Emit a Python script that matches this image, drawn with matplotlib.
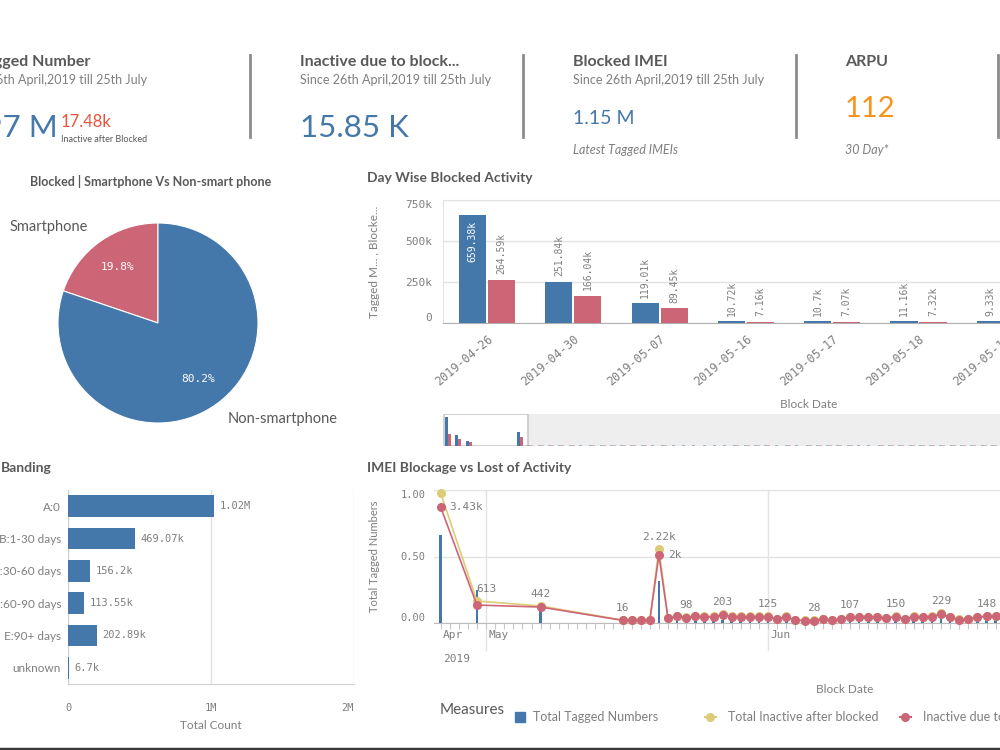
import numpy as np
import pandas as pd
import matplotlib
matplotlib.use("Agg")
import matplotlib.pyplot as plt
import matplotlib.dates as mdates
import matplotlib.transforms as mtransforms
from matplotlib.lines import Line2D
from matplotlib.patches import Rectangle
from matplotlib.ticker import NullLocator

W, H = 1000, 750

BLUE = "#4477aa"
RED = "#cc6677"
YELLOW = "#ddcc77"
ORANGE = "#f7941d"
DARK = "#595959"
GREY = "#7f7f7f"
LIGHT = "#e3e3e3"
SANS = ["Lato", "DejaVu Sans"]
MONO = ["DejaVu Sans Mono", "DejaVu Sans"]

plt.rcParams["font.family"] = SANS

# KPI row
kpi_titles = ["Tagged Number", "Inactive due to block...", "Blocked IMEI", "ARPU"]
kpi_subtitle = "Since 26th April,2019 till 25th July"
kpi_values = ["1.97 M", "15.85 K", "1.15 M", "112"]
kpi_notes = ["", "", "Latest Tagged IMEIs", "30 Day*"]
tagged_inactive = "17.48k"
tagged_inactive_note = "Inactive after Blocked"

# pie
pie_labels = ["Smartphone", "Non-smartphone"]
pie_share = [19.8, 80.2]

# day wise blocked activity (thousands)
block_dates = ["2019-04-26", "2019-04-30", "2019-05-07"] + \
    [d.strftime("%Y-%m-%d") for d in pd.date_range("2019-05-16", "2019-07-07")]
tagged_k = [659.38, 251.84, 119.01, 10.72, 10.7, 11.16, 9.33, 312.5,
            18.4, 21.2, 17.9, 20.6, 19.3, 16.8, 24.1, 19.7, 18.2, 20.4,
            17.5, 19.9, 14.2, 20.8, 12.6, 11.9, 12.3, 14.8, 13.1, 15.2,
            19.6, 20.3, 19.1, 18.8, 16.4, 21.0, 13.7, 21.5, 19.2, 21.1,
            26.4, 18.6, 12.9, 13.4, 19.0, 21.6, 22.0, 19.5, 18.1, 20.7,
            17.2, 19.8, 16.9, 20.2, 18.5, 17.7, 21.3, 19.4]
blocked_k = [264.59, 166.04, 89.45, 7.16, 7.07, 7.32, 6.41, 205.0,
             12.5, 14.4, 12.2, 14.0, 13.1, 11.4, 16.4, 13.4, 12.4, 13.9,
             11.9, 13.5, 9.7, 14.1, 8.6, 8.1, 8.4, 10.1, 8.9, 10.3,
             13.3, 13.8, 13.0, 12.8, 11.2, 14.3, 9.3, 14.6, 13.1, 14.3,
             18.0, 12.6, 8.8, 9.1, 12.9, 14.7, 15.0, 13.3, 12.3, 14.1,
             11.7, 13.5, 11.5, 13.7, 12.6, 12.0, 14.5, 13.2]

# banding
bands = ["A:0", "B:1-30 days", "C:30-60 days", "D:60-90 days", "E:90+ days", "unknown"]
band_counts = [1020000, 469070, 156200, 113550, 202890, 6700]
band_text = ["1.02M", "469.07k", "156.2k", "113.55k", "202.89k", "6.7k"]

# IMEI blockage vs lost of activity (normalised scale)
total_inactive = [0.98, 0.165, 0.128, 0.022, 0.022, 0.022, 0.022, 0.56,
                  0.04, 0.055, 0.044, 0.054, 0.05, 0.049, 0.068,
                  0.05, 0.049, 0.05, 0.049, 0.05,
                  0.032, 0.05, 0.024, 0.021, 0.022, 0.032, 0.024, 0.032,
                  0.047, 0.048, 0.047, 0.048, 0.039, 0.053, 0.032, 0.052, 0.048, 0.053,
                  0.072, 0.047, 0.029, 0.033, 0.047, 0.055, 0.054,
                  0.05, 0.044, 0.054, 0.042, 0.05, 0.046, 0.055, 0.048, 0.043, 0.05, 0.047]
inactive_due = [0.875, 0.135, 0.12, 0.02, 0.02, 0.02, 0.02, 0.51,
                0.035, 0.05, 0.04, 0.05, 0.045, 0.045, 0.063,
                0.045, 0.045, 0.045, 0.045, 0.045,
                0.028, 0.045, 0.02, 0.018, 0.018, 0.028, 0.02, 0.028,
                0.043, 0.043, 0.043, 0.043, 0.035, 0.048, 0.028, 0.048, 0.043, 0.048,
                0.066, 0.043, 0.025, 0.028, 0.043, 0.05, 0.05,
                0.045, 0.04, 0.05, 0.038, 0.045, 0.042, 0.05, 0.044, 0.039, 0.046, 0.043]
lab_idx = [0, 1, 2, 3, 7, 7, 10, 14, 19, 24, 28, 33, 38, 43]
lab_txt = ["3.43k", "613", "442", "16", "2.22k", "2k", "98", "203", "125", "28",
           "107", "150", "229", "148"]
lab_side = ["r", "ur", "u", "u", "u", "r", "u", "u", "u", "u", "u", "u", "u", "u"]

legend_names = ["Total Tagged Numbers", "Total Inactive after blocked", "Inactive due to blocking"]
legend_colors = [BLUE, YELLOW, RED]


fig = plt.figure(figsize=(10, 7.5), dpi=100)
fig.patch.set_facecolor("white")


def px_axes(left, top, width, height):
    return fig.add_axes([left / W, 1 - (top + height) / H, width / W, height / H])


def ftext(x, y, s, **kw):
    kw.setdefault("va", "center")
    return fig.text(x / W, 1 - y / H, s, **kw)


def fline(xs, ys, **kw):
    fig.add_artist(Line2D([x / W for x in xs], [1 - y / H for y in ys],
                          transform=fig.transFigure, **kw))


def edge_labels(labels):
    labels[0].set_va("bottom")
    labels[-1].set_va("top")


# ---------------- KPI cards
ftext(90, 62, kpi_titles[0], ha="right", fontsize=11.5, fontweight="bold", color=DARK)
ftext(147, 80, kpi_subtitle, ha="right", fontsize=9, color=GREY)
ftext(58, 128, kpi_values[0], ha="right", fontsize=22.5, color=BLUE)
ftext(61, 122, tagged_inactive, fontsize=12, color="#e8553e")
ftext(61, 140, tagged_inactive_note, fontsize=6.5, color=DARK)

card_x = [300, 573, 845]
val_y = [128, 118, 109]
val_size = [22.5, 14, 21]
val_color = [BLUE, BLUE, ORANGE]
for k in range(3):
    i = k + 1
    ftext(card_x[k], 62, kpi_titles[i], fontsize=11.5, fontweight="bold", color=DARK)
    if i < 3:
        ftext(card_x[k], 80, kpi_subtitle, fontsize=9, color=GREY)
    ftext(card_x[k], val_y[k], kpi_values[i], fontsize=val_size[k], color=val_color[k])
    if kpi_notes[i]:
        ftext(card_x[k], 150, kpi_notes[i], fontsize=9, style="italic", color=GREY)

for x in [250, 523, 796, 998]:
    fline([x, x], [55, 137], color="#8c8c8c", lw=2)

# ---------------- pie
ftext(30, 182, "Blocked | Smartphone Vs Non-smart phone", fontsize=9, fontweight="bold", color=DARK)
ax1 = px_axes(58, 223, 200, 200)
ax1.pie(pie_share, colors=[RED, BLUE], startangle=90, counterclock=True,
        autopct="%.1f%%", pctdistance=0.69,
        wedgeprops=dict(edgecolor="white", linewidth=0.8),
        textprops=dict(color="white", family=MONO, fontsize=8))
ax1.set_xlim(-1, 1)
ax1.set_ylim(-1, 1)
ax1.text(-1.48, 0.96, pie_labels[0], ha="left", va="center", fontsize=10.5, color=DARK)
ax1.text(0.70, -0.96, pie_labels[1], ha="left", va="center", fontsize=10.5, color=DARK)

# ---------------- day wise bar chart
ftext(367, 178, "Day Wise Blocked Activity", fontsize=10, fontweight="bold", color=DARK)
ax2 = px_axes(443, 200, 657, 123)
xi = np.arange(len(block_dates))
tag = np.array(tagged_k) * 1000
blk = np.array(blocked_k) * 1000
bw = 0.315
ax2.bar(xi - 0.168, tag, bw, color=BLUE, zorder=3)
ax2.bar(xi + 0.168, blk, bw, color=RED, zorder=3)
ax2.set_xticks(xi)
ax2.set_xticklabels(block_dates, rotation=40, ha="right", rotation_mode="anchor",
                    fontsize=8.5, family=MONO, color=GREY)
bx0, bx1 = -0.51, -0.51 + 657 / 86.3
ax2.set_xlim(bx0, bx1)
ax2.set_ylim(0, 750000)
for xs, vals in [(xi - 0.168, tagged_k), (xi + 0.168, blocked_k)]:
    for x, v in zip(xs, vals):
        if x > bx1:
            continue
        s = ("%.2f" % v).rstrip("0").rstrip(".") + "k"
        inside = v * 1000 > 0.8 * 750000
        ax2.annotate(s, (x, v * 1000), xytext=(0, -4 if inside else 4), textcoords="offset points",
                     rotation=90, ha="center", va="top" if inside else "bottom",
                     fontsize=7, family=MONO, color="white" if inside else GREY,
                     annotation_clip=False)
ax2.set_yticks([0, 250000, 500000, 750000])
ax2.set_yticklabels(["0", "250k", "500k", "750k"], fontsize=8, family=MONO, color=GREY)
edge_labels(ax2.get_yticklabels())
ax2.tick_params(axis="both", length=0)
ax2.tick_params(axis="x", pad=7)
ax2.tick_params(axis="y", pad=8)
ax2.grid(axis="y", color=LIGHT, lw=1, zorder=0)
for sp in ["left", "top"]:
    ax2.spines[sp].set_color(LIGHT)
ax2.spines["bottom"].set_color("#b0b0b0")
ax2.spines["right"].set_visible(False)
ax2.set_ylabel("Tagged M... , Blocke...", fontsize=8.5, color=GREY)
ax2.yaxis.set_label_coords((380 - 443) / 657, 0.5)
ax2.set_xlabel("Block Date", fontsize=8.5, color=GREY)
ax2.xaxis.set_label_coords((809 - 443) / 657, (323 - 399) / 123)

# scroll bar mini chart
axm = px_axes(443, 414, 657, 32)
mx0 = -0.49
mx1 = mx0 + 85 / 10.3
axm.set_xlim(mx0, mx0 + 657 / 10.3)
axm.set_ylim(0, 730000)
axm.axvspan(mx1, mx0 + 657 / 10.3, color="#eeeeee", zorder=0)
axm.add_patch(Rectangle((mx0 + 0.05, 0), mx1 - mx0 - 0.05, 730000, facecolor="white",
                        edgecolor="#c8c8c8", lw=1.2, zorder=1))
sel = xi < 8
axm.bar(xi[sel] - 0.146, tag[sel], 0.29, color=BLUE, zorder=2)
axm.bar(xi[sel] + 0.146, blk[sel], 0.29, color=RED, zorder=2)
axm.bar(xi[~sel] - 0.146, tag[~sel], 0.29, color=BLUE, alpha=0.45, zorder=2)
axm.bar(xi[~sel] + 0.146, blk[~sel], 0.29, color=RED, alpha=0.45, zorder=2)
axm.axis("off")

# ---------------- banding
ftext(1, 468, "Banding", fontsize=10, fontweight="bold", color=DARK)
ax3 = px_axes(68, 490, 286, 194)
yb = np.arange(len(bands))
ax3.barh(yb, band_counts, height=0.67, color=BLUE, zorder=3)
ax3.set_ylim(5.5, -0.5)
ax3.set_xlim(0, 2000000)
for y, v, s in zip(yb, band_counts, band_text):
    ax3.annotate(s, (v, y), xytext=(4, 0), textcoords="offset points", ha="left", va="center",
                 fontsize=7.5, family=MONO, color=GREY)
ax3.set_yticks(yb)
ax3.set_yticklabels(bands, fontsize=8.5, color=GREY)
ax3.set_xticks([0, 1000000, 2000000])
ax3.set_xticklabels(["0", "1M", "2M"], fontsize=7.5, family=MONO, color=GREY)
ax3.get_xticklabels()[-1].set_ha("right")
ax3.tick_params(axis="y", length=0, pad=5)
ax3.tick_params(axis="x", length=0, pad=14)
ax3.grid(axis="x", color=LIGHT, lw=1, zorder=0)
for sp in ["top", "right"]:
    ax3.spines[sp].set_visible(False)
for sp in ["left", "bottom"]:
    ax3.spines[sp].set_color("#cfcfcf")
ax3.set_xlabel("Total Count", fontsize=8.5, color=GREY)
ax3.xaxis.set_label_coords(0.5, (684 - 720) / 194)

# ---------------- IMEI blockage vs lost of activity
ftext(367, 468, "IMEI Blockage vs Lost of Activity", fontsize=10, fontweight="bold", color=DARK)
ax4 = px_axes(434, 490, 666, 133)
lx = mdates.date2num(pd.to_datetime(block_dates))
day_px = 9.1
ax4.bar(lx, np.array(tagged_k) / 1000, width=0.3, color=BLUE, zorder=3)
ax4.plot(lx, total_inactive, color=YELLOW, lw=1.2, marker="o", ms=5.5, zorder=4, clip_on=False)
ax4.plot(lx, inactive_due, color=RED, lw=1.2, marker="o", ms=5.5, zorder=5, clip_on=False)
for i, s, side in zip(lab_idx, lab_txt, lab_side):
    if side == "r":
        ax4.annotate(s, (lx[i], inactive_due[i]), xytext=(6.5, 0), textcoords="offset points",
                     ha="left", va="center", fontsize=8, family=MONO, color=GREY)
    else:
        top = max(total_inactive[i], inactive_due[i])
        dx = 7 if side == "ur" else 0
        ax4.annotate(s, (lx[i], top), xytext=(dx, 5), textcoords="offset points",
                     ha="center", va="bottom", fontsize=8, family=MONO, color=GREY)
ax4.set_yticks([0, 0.5, 1])
ax4.set_yticklabels(["0.00", "0.50", "1.00"], fontsize=7.5, family=MONO, color=GREY)
edge_labels(ax4.get_yticklabels())
ax4.tick_params(axis="y", length=0, pad=6)
ax4.xaxis.set_major_locator(NullLocator())
ax4.xaxis.set_minor_locator(mdates.DayLocator())
ax4.tick_params(axis="x", which="minor", length=4, color="#c8c8c8", width=0.8)
ax4.set_xlim(lx[0] - 6.5 / day_px, lx[0] - 6.5 / day_px + 666 / day_px)
ax4.set_ylim(0, 1)
ax4.grid(axis="y", color=LIGHT, lw=1, zorder=0)
for sp in ["left", "right"]:
    ax4.spines[sp].set_visible(False)
ax4.spines["top"].set_color(LIGHT)
ax4.spines["bottom"].set_color("#bdbdbd")
trans = mtransforms.blended_transform_factory(ax4.transData, ax4.transAxes)
for d in ["2019-05-01", "2019-06-01"]:
    ax4.axvline(mdates.date2num(pd.Timestamp(d)), ymin=-0.2, ymax=1, color=LIGHT, lw=1,
                clip_on=False, zorder=0)
for d, s in zip(["2019-04-26", "2019-05-01", "2019-06-01"], ["Apr", "May", "Jun"]):
    ax4.text(mdates.date2num(pd.Timestamp(d)) + 0.3, -0.09, s, transform=trans, ha="left",
             va="center", fontsize=8, family=MONO, color=GREY)
ax4.text(lx[0] + 0.3, -0.27, "2019", transform=trans, ha="left", va="center",
         fontsize=8, family=MONO, color=GREY)
ax4.set_ylabel("Total Tagged Numbers", fontsize=8, color=GREY)
ax4.yaxis.set_label_coords((380 - 434) / 666, 0.5)
ax4.set_xlabel("Block Date", fontsize=8.5, color=GREY)
ax4.xaxis.set_label_coords((845 - 434) / 666, (623 - 684) / 133)

# legend
ftext(440, 710, "Measures", fontsize=11, color=DARK)
for k, (name, col) in enumerate(zip(legend_names, legend_colors)):
    x0 = 515 + k * 195
    if k == 0:
        fig.add_artist(Rectangle((x0 / W, 1 - 722 / H), 10 / W, 10 / H, color=col,
                                 transform=fig.transFigure))
    else:
        fline([x0 - 5, x0 + 6], [717, 717], color=col, lw=1.5)
        fline([x0], [717], color=col, marker="o", ms=5.5)
    ftext(x0 + 18, 717, name, fontsize=9, color=GREY)

fline([0, W], [749, 749], color="#3a3a3a", lw=2.5)

fig.savefig("out.png", dpi=100)
